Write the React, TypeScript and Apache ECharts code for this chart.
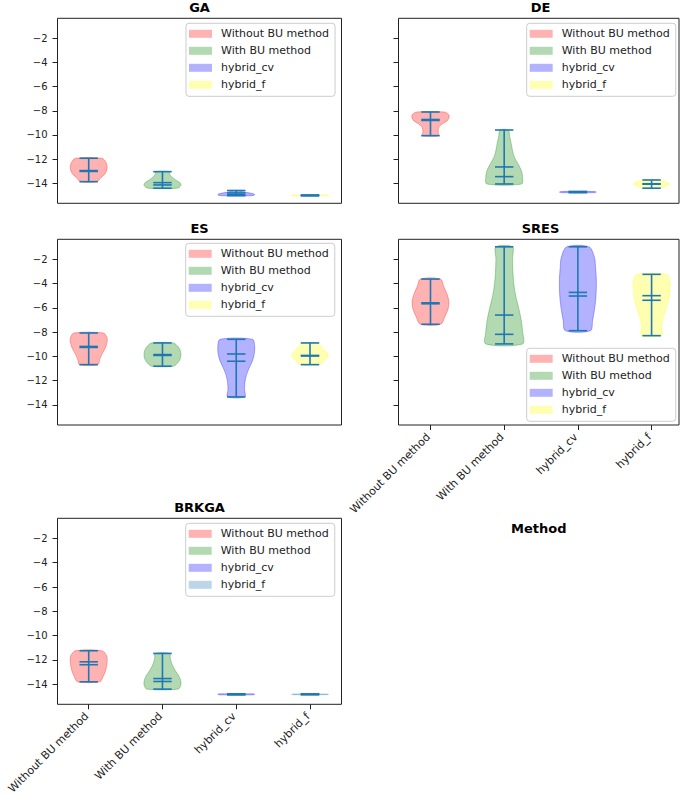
import React, { useEffect, useRef } from 'react';
import * as echarts from 'echarts';

// ---------- data ----------
const methods = ['Without BU method', 'With BU method', 'hybrid_cv', 'hybrid_f'];
const panelTitles = ['GA', 'DE', 'ES', 'SRES', 'BRKGA'];
const yTicks = [-14, -12, -10, -8, -6, -4, -2];
const xTicks = [1, 2, 3, 4];

// per method: [min, max, mean, median]
const gaStats = [
  [-13.87, -11.93, -12.95, -13.02],
  [-14.41, -13.04, -13.95, -14.14],
  [-15.03, -14.6, -14.8, -14.93],
  [-15.04, -14.98, -15.0, -15.01],
];
const deStats = [
  [-10.06, -8.1, -8.72, -8.8],
  [-14.06, -9.59, -12.65, -13.45],
  [-14.78, -14.68, -14.72, -14.74],
  [-14.41, -13.73, -14.04, -14.08],
];
const esStats = [
  [-10.68, -8.07, -9.18, -9.26],
  [-10.81, -8.89, -9.85, -9.92],
  [-13.34, -8.59, -10.4, -9.8],
  [-10.68, -8.89, -9.92, -9.97],
];
const sresStats = [
  [-7.35, -3.62, -5.58, -5.66],
  [-8.97, -0.96, -6.59, -8.18],
  [-7.88, -0.96, -4.72, -5.02],
  [-8.29, -3.23, -4.99, -5.37],
];
const brkgaStats = [
  [-13.81, -11.25, -12.16, -12.4],
  [-14.41, -11.47, -13.54, -13.78],
  [-14.88, -14.8, -14.83, -14.85],
  [-14.87, -14.81, -14.83, -14.85],
];

// violin outline: relative half-width from max (top) down to min (bottom), evenly spaced
const gaShapes = [
  [0.72, 0.93, 1.0, 0.98, 0.88, 0.66, 0.45],
  [0.35, 0.4, 0.52, 0.72, 0.95, 1.0, 0.8],
  [0.15, 0.3, 0.6, 0.9, 1.0, 0.85],
  [1.0, 1.0, 1.0],
];
const deShapes = [
  [0.75, 1.0, 1.0, 0.9, 0.65, 0.47, 0.42, 0.42, 0.45],
  [0.22, 0.3, 0.38, 0.45, 0.55, 0.75, 0.93, 1.0, 0.95],
  [0.9, 1.0, 0.9],
  [0.45, 0.8, 1.0, 0.8, 0.45],
];
const esShapes = [
  [0.8, 1.0, 0.98, 0.88, 0.72, 0.6, 0.5],
  [0.6, 0.85, 0.97, 1.0, 0.97, 0.85, 0.6],
  [0.88, 1.0, 0.98, 0.88, 0.7, 0.55, 0.47, 0.45, 0.47],
  [0.45, 0.6, 0.8, 0.98, 0.95, 0.75, 0.55],
];
const sresShapes = [
  [0.55, 0.72, 0.9, 1.0, 0.95, 0.78, 0.55],
  [0.45, 0.45, 0.47, 0.52, 0.62, 0.78, 0.92, 1.0, 1.0],
  [0.6, 0.9, 0.96, 1.0, 1.0, 0.97, 0.9, 0.8, 0.68],
  [0.8, 1.0, 1.0, 0.95, 0.85, 0.72, 0.6, 0.55, 0.55],
];
const brkgaShapes = [
  [0.72, 0.98, 1.0, 0.97, 0.9, 0.78, 0.6],
  [0.4, 0.42, 0.48, 0.58, 0.72, 0.88, 0.98, 1.0, 0.85],
  [0.9, 1.0, 0.9],
  [0.9, 1.0, 0.9],
];

const allStats = [gaStats, deStats, esStats, sresStats, brkgaStats];
const allShapes = [gaShapes, deShapes, esShapes, sresShapes, brkgaShapes];

// ---------- styling / layout ----------
const FONT = 'DejaVu Sans';
const INK = '#222';
const LINE = '#1f77b4';
const baseColors = ['rgba(255,0,0,0.3)', 'rgba(0,128,0,0.3)', 'rgba(0,0,255,0.3)', 'rgba(255,255,0,0.3)'];
const brkgaColors = ['rgba(255,0,0,0.3)', 'rgba(0,128,0,0.3)', 'rgba(0,0,255,0.3)', 'rgba(31,119,180,0.3)'];
const panelColors = [baseColors, baseColors, baseColors, baseColors, brkgaColors];

const Y_MIN = -15.66;
const Y_MAX = -0.34;

const layout = [
  { left: 57.5, top: 18.3, width: 284, height: 185, xMin: 0.577, xMax: 4.427, yLab: true, xLab: false, lgL: 186, lgT: 23.3, tx: 199.5, ty: 7.5 },
  { left: 398.5, top: 18.3, width: 280.5, height: 185, xMin: 0.566, xMax: 4.372, yLab: false, xLab: false, lgL: 526.7, lgT: 23.3, tx: 540.5, ty: 7.5 },
  { left: 57.5, top: 239.3, width: 284, height: 185.7, xMin: 0.577, xMax: 4.427, yLab: true, xLab: false, lgL: 185.7, lgT: 243.3, tx: 199.5, ty: 228.3 },
  { left: 398.5, top: 239.3, width: 280.5, height: 185.7, xMin: 0.566, xMax: 4.372, yLab: false, xLab: true, lgL: 526.7, lgT: 348.3, tx: 540.5, ty: 228.3 },
  { left: 57.5, top: 518.3, width: 284, height: 186, xMin: 0.577, xMax: 4.427, yLab: true, xLab: true, lgL: 185.7, lgT: 523.3, tx: 199.5, ty: 507.3 },
];

const fmtNum = (v: number) => (v < 0 ? '\u2212' + Math.abs(v) : String(v));

function buildOption() {
  const grid: any[] = [];
  const xAxis: any[] = [];
  const yAxis: any[] = [];
  const series: any[] = [];
  const legend: any[] = [];
  const graphic: any[] = [];

  layout.forEach((L, p) => {
    grid.push({
      left: L.left, top: L.top, width: L.width, height: L.height,
      show: true, borderColor: INK, borderWidth: 1, backgroundColor: 'transparent',
    });
    xAxis.push({
      type: 'value', gridIndex: p, min: L.xMin, max: L.xMax,
      axisLine: { show: false }, splitLine: { show: false },
      axisTick: { show: L.xLab, customValues: xTicks, length: 5, lineStyle: { color: INK, width: 1 } },
      axisLabel: {
        show: L.xLab, customValues: xTicks, rotate: 45, margin: 8,
        formatter: (v: number) => methods[Math.round(v) - 1] || '',
        fontFamily: FONT, fontSize: 11, color: INK, padding: [0, 3, 0, 0],
      },
      name: p === 3 ? 'Method' : '',
      nameLocation: 'middle', nameGap: 97,
      nameTextStyle: { fontFamily: FONT, fontSize: 13, fontWeight: 'bold', color: '#000' },
    });
    yAxis.push({
      type: 'value', gridIndex: p, min: Y_MIN, max: Y_MAX,
      axisLine: { show: false }, splitLine: { show: false },
      axisTick: { show: true, customValues: yTicks, length: 5, lineStyle: { color: INK, width: 1 } },
      axisLabel: {
        show: L.yLab, customValues: yTicks, margin: 10,
        formatter: fmtNum, fontFamily: FONT, fontSize: 10, color: INK,
      },
    });

    const stats = allStats[p];
    const shapes = allShapes[p];
    const colors = panelColors[p];
    methods.forEach((m, k) => {
      const st = stats[k];
      const shape = shapes[k];
      const fill = colors[k];
      series.push({
        type: 'custom', name: m, xAxisIndex: p, yAxisIndex: p,
        encode: { x: 0, y: [1, 2] },
        data: [[k + 1, st[0], st[1], st[2], st[3]]],
        renderItem: (params: any, api: any) => {
          const pos = api.value(0);
          const mn = api.value(1);
          const mx = api.value(2);
          const mean = api.value(3);
          const med = api.value(4);
          const n = shape.length;
          const right: number[][] = [];
          const left: number[][] = [];
          for (let i = 0; i < n; i++) {
            const y = mx - ((mx - mn) * i) / (n - 1);
            const hw = shape[i] * 0.25;
            right.push(api.coord([pos + hw, y]));
            left.unshift(api.coord([pos - hw, y]));
          }
          const pts = right.concat(left);
          const cap = 0.125;
          const seg = (v: number) => {
            const a = api.coord([pos - cap, v]);
            const b = api.coord([pos + cap, v]);
            return {
              type: 'line',
              shape: { x1: a[0], y1: a[1], x2: b[0], y2: b[1] },
              style: { stroke: LINE, lineWidth: 1.6 },
            };
          };
          const t = api.coord([pos, mx]);
          const b = api.coord([pos, mn]);
          return {
            type: 'group',
            children: [
              { type: 'polygon', shape: { points: pts, smooth: 0.3 }, style: { fill, stroke: fill, lineWidth: 1 } },
              { type: 'line', shape: { x1: t[0], y1: t[1], x2: b[0], y2: b[1] }, style: { stroke: LINE, lineWidth: 1.6 } },
              seg(mx), seg(mn), seg(mean), seg(med),
            ],
          };
        },
      });
    });

    legend.push({
      show: true, orient: 'vertical', left: L.lgL, top: L.lgT,
      selectedMode: false, icon: 'rect', itemWidth: 23, itemHeight: 8, itemGap: 4,
      padding: [4, 6, 5, 3],
      backgroundColor: 'rgba(255,255,255,0.8)', borderColor: '#ccc', borderWidth: 1, borderRadius: 3,
      textStyle: { fontFamily: FONT, fontSize: 11, color: INK, lineHeight: 13, padding: [0, 0, 0, 4] },
      data: methods.map((m, k) => ({ name: m, itemStyle: { color: colors[k], borderWidth: 0 } })),
    });

    graphic.push({
      type: 'text', x: L.tx, y: L.ty,
      style: {
        text: panelTitles[p], font: 'bold 13px "DejaVu Sans"', fill: '#000',
        textAlign: 'center', textVerticalAlign: 'middle',
      },
    });
  });

  return {
    animation: false,
    backgroundColor: '#fff',
    textStyle: { fontFamily: FONT },
    grid, xAxis, yAxis, series, legend, graphic,
  };
}

export default function App() {
  const ref = useRef<HTMLDivElement>(null);
  useEffect(() => {
    if (!ref.current) return;
    const chart = echarts.init(ref.current, undefined, { renderer: 'svg' });
    chart.setOption(buildOption() as any);
    return () => chart.dispose();
  }, []);
  return <div ref={ref} style={{ position: 'absolute', left: 0, top: 0, width: 685, height: 797 }} />;
}
